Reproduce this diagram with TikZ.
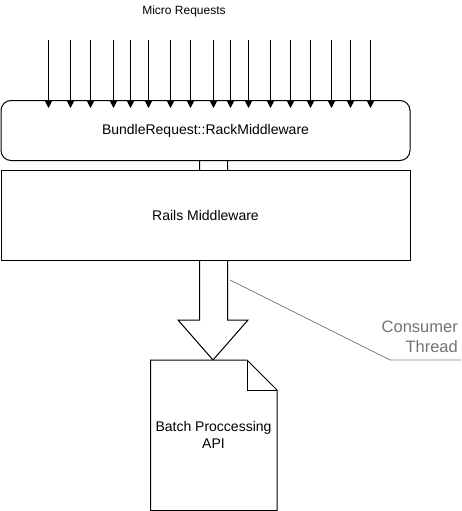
\documentclass[tikz,border=0pt]{standalone}
\usepackage{fontspec}
\setmainfont{Liberation Sans}
\usetikzlibrary{arrows.meta}
\tikzset{
  px/.style={x=1pt,y=-1pt},
  boxline/.style={draw=black,line width=1pt,fill=white},
  req/.style={line width=0.9pt,-{Triangle[width=7pt,length=7pt]}},
  lbl/.style={font=\fontsize{14}{17}\selectfont,align=center},
  graynote/.style={draw=black!50,line width=0.8pt},
}
\begin{document}
\begin{tikzpicture}[px]
\useasboundingbox (0,0) rectangle (461,511);
% title
\node[font=\fontsize{12}{14}\selectfont] (title) at (184,11) {Micro Requests};
% block arrow (shaft starts under the rack box)
\draw[boxline] (199.5,160) -- (199.5,320) -- (178,320) -- (213,360) -- (248,320) -- (227.5,320) -- (227.5,160);
% rack middleware
\node[boxline,rounded corners=10pt,minimum width=409pt,minimum height=60pt,inner sep=0pt,lbl] (rack) at (205.5,130.5) {BundleRequest::RackMiddleware};
% rails middleware
\node[boxline,minimum width=409pt,minimum height=90pt,inner sep=0pt,lbl] (rails) at (205.5,215) {Rails Middleware};
% request arrows
\foreach \i/\x in {1/48.5,2/70.5,3/90.5,4/113.5,5/130.5,6/148.5,7/170.5,8/190.5,9/213.5,10/230.5,11/248.5,12/270.5,13/290.5,14/310.5,15/331.5,16/350.5,17/370.5}{
  \coordinate (s\i) at (\x,40);
  \coordinate (e\i) at (\x,108);
  \draw[req] (s\i) -- (e\i);
}
% document
\draw[boxline] (150.5,360) -- (247,360) -- (277,390) -- (277,510.5) -- (150.5,510.5) -- cycle;
\draw[line width=1pt] (247,360) -- (247,390) -- (277,390);
\node[lbl] (api) at (213.5,435) {Batch Proccessing\\API};
% consumer thread note
\coordinate (n1) at (230,280);
\coordinate (n2) at (390,360);
\coordinate (n3) at (461,360);
\draw[graynote] (n1) -- (n2) -- (n3);
\node[font=\fontsize{16.5}{20}\selectfont,text=black!55,align=right,anchor=east,inner sep=0pt] (ct) at (458,337) {Consumer\\Thread};
\end{tikzpicture}
\end{document}
